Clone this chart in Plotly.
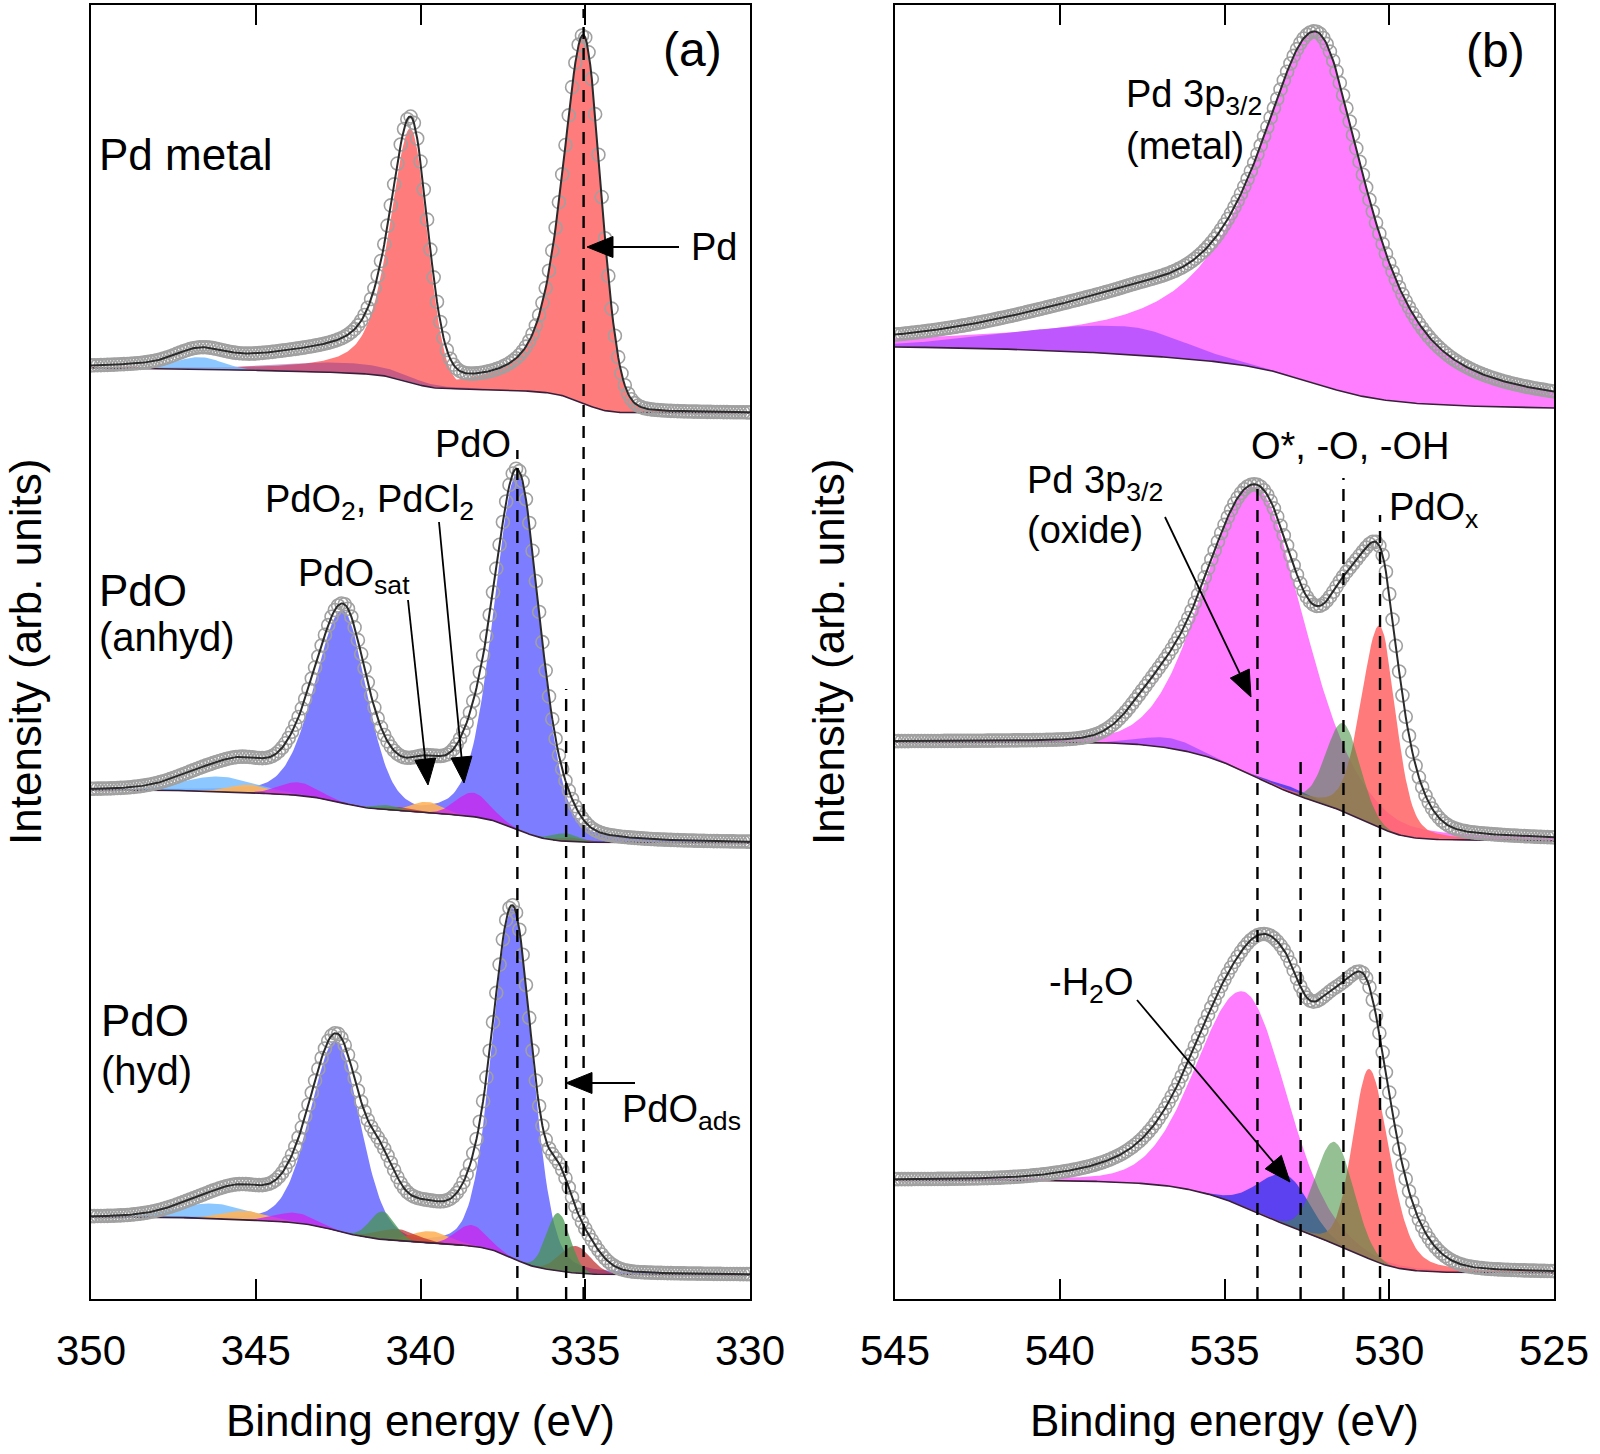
import numpy as np
import plotly.graph_objects as go

# ---------------- data ----------------
# Peak tables: (kind, centre eV, height, HWHM low-BE side, HWHM high-BE side, Lorentz frac low, Lorentz frac high)
# heights are in arbitrary intensity units (stacked spectra share one intensity axis)
# kind 'hidden' = fit contribution that is not drawn as a filled component

# Pd 3d region (left panel)
PD_METAL_BG = (931, 886)          # background at 350 eV, at 330 eV
PD_METAL_PEAKS = [
    ("Pd", 335.05, 368, 0.62, 0.78, 0.10, 0.65),
    ("Pd", 340.30, 254, 0.60, 0.75, 0.10, 0.60),
    ("loss", 346.70, 12, 0.80, 0.80, 0.0, 0.0),
    ("minor", 342.20, 10, 2.00, 2.50, 0.0, 0.0),
    ("hidden", 345.00, 7, 3.00, 3.00, 0.0, 0.0),
]

PDO_ANHYD_BG = (509, 456)
PDO_ANHYD_PEAKS = [
    ("PdO", 337.05, 356, 0.80, 0.85, 0.25, 0.25),
    ("PdO", 342.35, 193, 0.85, 1.00, 0.25, 0.25),
    ("loss", 346.10, 15, 1.30, 1.30, 0.0, 0.0),
    ("sat", 339.80, 11, 0.55, 0.55, 0.0, 0.0),
    ("sat", 345.20, 8, 0.70, 0.70, 0.0, 0.0),
    ("PdO2", 338.40, 24, 0.60, 0.60, 0.0, 0.0),
    ("PdO2", 343.70, 13, 0.70, 0.70, 0.0, 0.0),
    ("adsB", 335.40, 4, 0.50, 0.50, 0.0, 0.0),
    ("adsB", 340.60, 4, 0.60, 0.60, 0.0, 0.0),
    ("adsA", 335.60, 8, 0.45, 0.45, 0.0, 0.0),
    ("adsA", 341.00, 5, 0.45, 0.45, 0.0, 0.0),
    ("hidden", 345.50, 10, 1.60, 1.60, 0.0, 0.0),
    ("hidden", 339.70, 32, 1.40, 1.40, 0.0, 0.0),
]

PDO_HYD_BG = (82, 24)
PDO_HYD_PEAKS = [
    ("PdO", 337.20, 350, 0.70, 0.72, 0.20, 0.20),
    ("PdO", 342.55, 190, 0.85, 0.92, 0.20, 0.20),
    ("loss", 346.30, 15, 1.30, 1.30, 0.0, 0.0),
    ("sat", 339.70, 12, 0.70, 0.70, 0.0, 0.0),
    ("sat", 345.30, 9, 0.80, 0.80, 0.0, 0.0),
    ("PdO2", 338.45, 21, 0.55, 0.55, 0.0, 0.0),
    ("PdO2", 343.80, 10, 0.70, 0.70, 0.0, 0.0),
    ("adsB", 340.70, 12, 0.70, 0.70, 0.0, 0.0),
    ("adsB", 335.30, 27, 0.55, 0.55, 0.0, 0.0),
    ("adsA", 341.15, 28, 0.45, 0.45, 0.0, 0.0),
    ("adsA", 335.82, 58, 0.42, 0.42, 0.0, 0.0),
    ("hidden", 341.30, 16, 0.80, 0.80, 0.0, 0.0),
    ("hidden", 339.50, 18, 1.20, 1.20, 0.0, 0.0),
    ("hidden", 345.00, 12, 1.50, 1.50, 0.0, 0.0),
    ("hidden", 334.90, 12, 0.60, 0.60, 0.0, 0.0),
]

# Pd 3p3/2 / O 1s region (right panel)
P3_METAL_BG = (952, 891)          # background at 545 eV, at 525 eV
P3_METAL_PEAKS = [
    ("Pd3p", 532.20, 352, 1.80, 2.20, 0.80, 0.90),
    ("loss3p", 538.00, 28, 2.00, 4.00, 0.0, 0.0),
]

P3_OXIDE_BG = (557, 458)
P3_OXIDE_PEAKS = [
    ("Pd3p", 534.00, 290, 1.70, 1.85, 0.30, 0.10),
    ("loss3p", 536.70, 10, 1.00, 1.00, 0.0, 0.0),
    ("H2O", 532.90, 6, 0.80, 0.80, 0.0, 0.0),
    ("PdOx", 530.28, 202, 0.56, 0.66, 0.30, 0.20),
    ("Ostar", 531.40, 88, 0.60, 0.60, 0.0, 0.0),
    ("hidden", 537.30, 20, 0.90, 0.90, 0.0, 0.0),
    ("hidden", 531.00, 44, 0.50, 0.55, 0.0, 0.0),
    ("hidden", 532.00, 28, 0.60, 0.60, 0.0, 0.0),
    ("hidden", 529.70, 52, 0.75, 0.85, 0.0, 0.0),
]

P3_HYD_BG = (119, 26)
P3_HYD_PEAKS = [
    ("Pd3p", 534.38, 215, 1.50, 1.70, 0.15, 0.15),
    ("H2O", 533.10, 50, 0.80, 1.00, 0.0, 0.0),
    ("PdOx", 530.60, 190, 0.72, 0.59, 0.35, 0.10),
    ("Ostar", 531.65, 102, 0.68, 0.68, 0.0, 0.0),
    ("hidden", 536.50, 22, 2.50, 2.50, 0.0, 0.0),
    ("hidden", 533.20, 45, 0.60, 0.90, 0.0, 0.0),
    ("hidden", 531.80, 93, 0.90, 1.10, 0.0, 0.0),
    ("hidden", 531.15, 17, 0.40, 0.40, 0.0, 0.0),
    ("hidden", 529.90, 47, 1.00, 0.70, 0.0, 0.0),
]

# reference energies (dashed markers) and the intensity where each dashed line starts
LEFT_MARK_EV = [335.05, 337.06, 335.58]
LEFT_MARK_TOP = [1290, 849, 610]
RIGHT_MARK_EV = [534.00, 532.69, 531.39, 530.28]
RIGHT_MARK_TOP = [811, 540, 821, 784]

LEFT_TICKS = [350, 345, 340, 335, 330]
RIGHT_TICKS = [545, 540, 535, 530, 525]

# ---------------- styles ----------------
W, H = 1600, 1454
FONT = "Arial, Liberation Sans, Helvetica, sans-serif"
COLORS = {
    "Pd": "rgb(255,124,124)",
    "PdO": "rgb(125,125,255)",
    "loss": "rgba(120,190,255,0.85)",
    "sat": "rgba(255,180,90,0.9)",
    "PdO2": "rgba(200,40,240,0.8)",
    "minor": "rgba(130,50,140,0.45)",
    "adsB": "rgba(190,40,40,0.7)",
    "adsA": "rgba(70,150,80,0.75)",
    "Pd3p": "rgb(255,125,255)",
    "loss3p": "rgba(180,80,255,0.85)",
    "H2O": "rgba(50,50,235,0.8)",
    "PdOx": "rgba(255,100,100,0.85)",
    "Ostar": "rgba(60,140,60,0.55)",
}
ORDER = ["Pd", "PdO", "Pd3p", "minor", "loss", "loss3p", "sat", "PdO2", "H2O",
         "PdOx", "adsB", "adsA", "Ostar"]


def profile(E, c, h, wlo, whi, elo, ehi):
    hi = E >= c
    w = np.where(hi, whi, wlo)
    eta = np.where(hi, ehi, elo)
    u = (E - c) / w
    return h * ((1 - eta) * np.exp(-np.log(2) * u ** 2) + eta / (1 + u ** 2))


def build(E, peaks, bg_ends):
    b_hi, b_lo = bg_ends
    comps = [(p[0], profile(E, *p[1:])) for p in peaks]
    total = np.sum([c for _, c in comps], axis=0)
    cum = np.concatenate([[0.0], np.cumsum((total[1:] + total[:-1]) / 2 * np.diff(E))])
    bg = b_lo + (b_hi - b_lo) * cum / cum[-1]   # Shirley-type background
    return comps, bg, bg + total


fig = go.Figure()


def add_spectrum(E, peaks, bg_ends, xa, ya):
    comps, bg, fit = build(E, peaks, bg_ends)
    drawn = [(k, c) for k, c in comps if k != "hidden"]
    drawn.sort(key=lambda kc: ORDER.index(kc[0]))
    for k, c in drawn:
        fig.add_trace(go.Scatter(
            x=np.concatenate([E, E[::-1]]), y=np.concatenate([bg + c, bg[::-1]]),
            fill="toself", fillcolor=COLORS[k], mode="lines", line=dict(width=0),
            xaxis=xa, yaxis=ya, showlegend=False, hoverinfo="skip"))
    fig.add_trace(go.Scatter(x=E, y=bg, mode="lines", line=dict(color="#3a1f3a", width=1.6),
                             xaxis=xa, yaxis=ya, showlegend=False, hoverinfo="skip"))
    fig.add_trace(go.Scatter(x=E[::2], y=fit[::2], mode="markers",
                             marker=dict(symbol="circle-open", size=13, color="rgb(160,160,160)",
                                         line=dict(width=1.6)),
                             xaxis=xa, yaxis=ya, showlegend=False, hoverinfo="skip"))
    fig.add_trace(go.Scatter(x=E, y=fit, mode="lines", line=dict(color="#2b2b2b", width=2),
                             xaxis=xa, yaxis=ya, showlegend=False, hoverinfo="skip"))


E_left = np.round(np.arange(330.0, 350.0001, 0.05), 3)
E_right = np.round(np.arange(525.0, 545.0001, 0.05), 3)

add_spectrum(E_left, PD_METAL_PEAKS, PD_METAL_BG, "x", "y")
add_spectrum(E_left, PDO_ANHYD_PEAKS, PDO_ANHYD_BG, "x", "y")
add_spectrum(E_left, PDO_HYD_PEAKS, PDO_HYD_BG, "x", "y")
add_spectrum(E_right, P3_METAL_PEAKS, P3_METAL_BG, "x2", "y2")
add_spectrum(E_right, P3_OXIDE_PEAKS, P3_OXIDE_BG, "x2", "y2")
add_spectrum(E_right, P3_HYD_PEAKS, P3_HYD_BG, "x2", "y2")

shapes = []
for ev, top in zip(LEFT_MARK_EV, LEFT_MARK_TOP):
    shapes.append(dict(type="line", xref="x", yref="y", x0=ev, x1=ev, y0=0, y1=top,
                       line=dict(color="black", width=2.4, dash="12px,9px"), layer="above"))
for ev, top in zip(RIGHT_MARK_EV, RIGHT_MARK_TOP):
    shapes.append(dict(type="line", xref="x2", yref="y2", x0=ev, x1=ev, y0=0, y1=top,
                       line=dict(color="black", width=2.4, dash="12px,9px"), layer="above"))


def P(x, y):
    return x / W, 1 - y / H


ann = []


def text(x, y, s, size=38, anchor="left", angle=0):
    px_, py_ = P(x, y)
    ann.append(dict(x=px_, y=py_, xref="paper", yref="paper", text=s, showarrow=False,
                    xanchor=anchor, yanchor="middle", textangle=angle,
                    font=dict(family=FONT, size=size, color="black")))


def arrow(tail, tip, head_len=26.0, half_w=10.5):
    """Arrow drawn with two paper-referenced shapes (shaft + filled head); pixel geometry."""
    tx, ty = tail
    hx, hy = tip
    d = np.hypot(hx - tx, hy - ty)
    ux, uy = (hx - tx) / d, (hy - ty) / d
    bx, by = hx - ux * head_len, hy - uy * head_len
    nx, ny = -uy, ux
    x0, y0 = P(tx, ty)
    x1, y1 = P(bx + ux * 2, by + uy * 2)
    shapes.append(dict(type="line", xref="paper", yref="paper", x0=x0, y0=y0, x1=x1, y1=y1,
                       line=dict(color="black", width=1.8), layer="above"))
    pts = [P(hx, hy), P(bx + nx * half_w, by + ny * half_w), P(bx - nx * half_w, by - ny * half_w)]
    path = "M{:.5f},{:.5f} L{:.5f},{:.5f} L{:.5f},{:.5f} Z".format(
        pts[0][0], pts[0][1], pts[1][0], pts[1][1], pts[2][0], pts[2][1])
    shapes.append(dict(type="path", xref="paper", yref="paper", path=path,
                       fillcolor="black", line=dict(color="black", width=1), layer="above"))


# panel labels
text(692, 50, "(a)", 48, "center")
text(1495, 51, "(b)", 48, "center")
# left panel
text(97, 155, "Pd metal", 44)
text(97, 590, "PdO", 44)
text(97, 637, "(anhyd)", 40)
text(99, 1020, "PdO", 44)
text(99, 1071, "(hyd)", 40)
text(689, 247, "Pd", 38)
arrow((679, 247), (587, 247))
text(473, 444, "PdO", 38, "center")
text(263, 502, "PdO<sub>2</sub>, PdCl<sub>2</sub>", 38)
text(296, 576, "PdO<sub>sat</sub>", 38)
arrow((408, 600), (428, 785))
arrow((439, 522), (464, 783))
text(620, 1112, "PdO<sub>ads</sub>", 38)
arrow((635, 1083), (566, 1083))
# right panel
text(1124, 97, "Pd 3p<sub>3/2</sub>", 38)
text(1124, 146, "(metal)", 38)
text(1249, 446, "O*, -O, -OH", 38)
text(1387, 510, "PdO<sub>x</sub>", 38)
text(1025, 483, "Pd 3p<sub>3/2</sub>", 38)
text(1025, 530, "(oxide)", 38)
arrow((1165, 517), (1251, 697))
text(1047, 985, "-H<sub>2</sub>O", 38)
arrow((1137, 1000), (1290, 1182))
# axis titles
text(420, 1420, "Binding energy (eV)", 44, "center")
text(1224, 1420, "Binding energy (eV)", 44, "center")
text(26, 652, "Intensity (arb. units)", 44, "center", -90)
text(829, 652, "Intensity (arb. units)", 44, "center", -90)

xcommon = dict(showgrid=False, zeroline=False, showline=True, mirror="ticks", linewidth=2,
               linecolor="black", ticks="inside", ticklen=20, tickwidth=1.5, tickcolor="black",
               tickfont=dict(family=FONT, size=42, color="black"), ticklabelstandoff=14,
               automargin=False)
ycommon = dict(showgrid=False, zeroline=False, showline=True, mirror=True, linewidth=2,
               linecolor="black", showticklabels=False, ticks="", range=[0, 1294],
               domain=[(H - 1299) / H, (H - 5) / H], automargin=False)

fig.update_layout(
    width=W, height=H, margin=dict(l=0, r=0, t=0, b=0, autoexpand=False),
    paper_bgcolor="white", plot_bgcolor="white", showlegend=False,
    xaxis=dict(range=[350, 330], domain=[91 / W, 750 / W], anchor="y",
               tickvals=LEFT_TICKS, **xcommon),
    xaxis2=dict(range=[545, 525], domain=[895 / W, 1554 / W], anchor="y2",
                tickvals=RIGHT_TICKS, **xcommon),
    yaxis=dict(anchor="x", **ycommon),
    yaxis2=dict(anchor="x2", **ycommon),
    shapes=shapes, annotations=ann,
)

fig.write_html("out.html")
